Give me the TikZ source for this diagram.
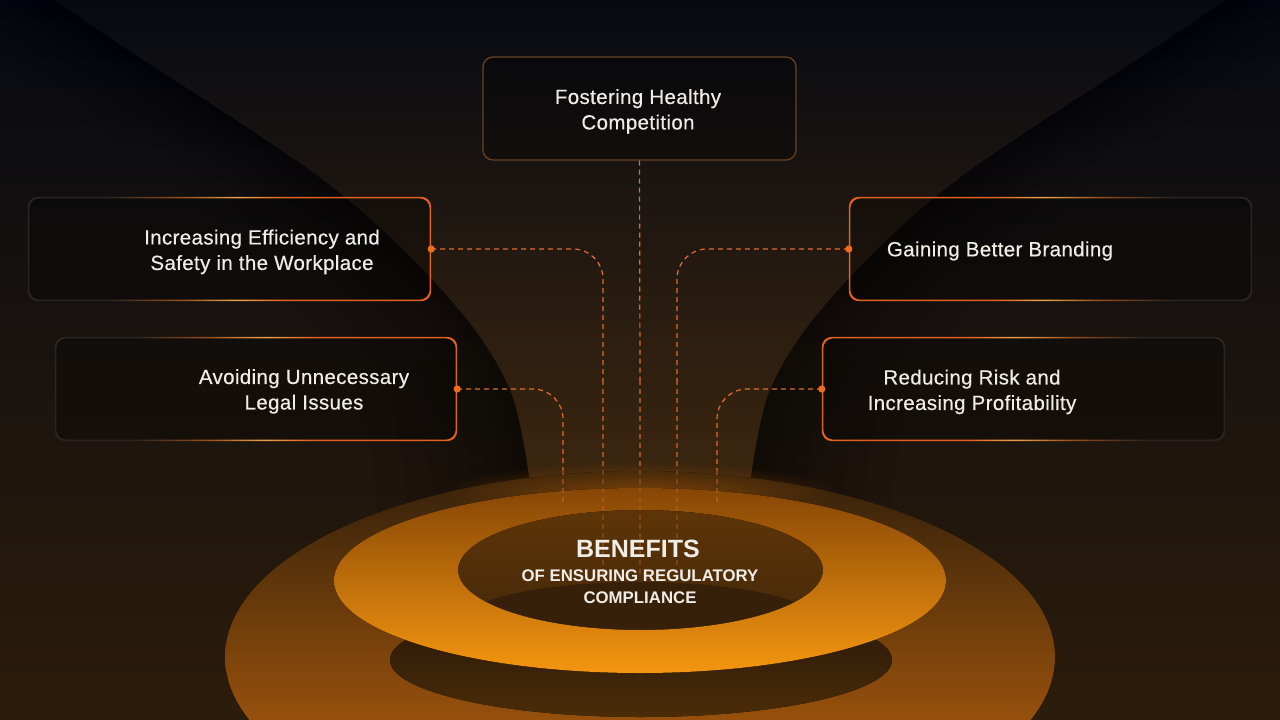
\documentclass[tikz,border=0pt]{standalone}
\usepackage{fontspec}
\setmainfont{Liberation Sans}
\newfontfamily\labelfont[FakeBold=0.45,LetterSpace=1.8]{Liberation Sans}
\usetikzlibrary{fadings}

\definecolor{bgtop}{HTML}{070A12}
\definecolor{bgmid}{HTML}{16120F}
\definecolor{bgbot}{HTML}{2C1C0B}
\definecolor{bellmid}{HTML}{17130F}
\definecolor{bellbot}{HTML}{3E270F}
\definecolor{oetop}{HTML}{33200B}
\definecolor{oemid}{HTML}{683908}
\definecolor{oebot}{HTML}{C8680C}
\definecolor{detop}{HTML}{26160A}
\definecolor{debot}{HTML}{4A2C08}
\definecolor{ringtop}{HTML}{864606}
\definecolor{ringmid}{HTML}{C27410}
\definecolor{ringbot}{HTML}{F59610}
\definecolor{holetop}{HTML}{5E3507}
\definecolor{holebot}{HTML}{44280A}
\definecolor{holein}{HTML}{36200A}
\definecolor{glowc}{HTML}{8A4A0A}
\definecolor{bdark}{HTML}{2A2520}
\definecolor{bmid}{HTML}{9A4E1C}
\definecolor{bgold}{HTML}{E8A248}
\definecolor{borange}{HTML}{E2611D}
\definecolor{topborder}{HTML}{6A4322}
\definecolor{dashc}{HTML}{DE6E2E}
\definecolor{dotc}{HTML}{F26B1D}
\definecolor{txt}{HTML}{F0ECE6}

\pgfdeclarehorizontalshading{lborder}{100bp}{color(0bp)=(bdark); color(35bp)=(bdark); color(44bp)=(bmid); color(51bp)=(bgold); color(57bp)=(borange); color(100bp)=(borange)}
\pgfdeclarehorizontalshading{rborder}{100bp}{color(0bp)=(borange); color(43bp)=(borange); color(49bp)=(bgold); color(56bp)=(bmid); color(65bp)=(bdark); color(100bp)=(bdark)}

\tikzfading[name=glowfade, inner color=transparent!25, outer color=transparent!100]
\tikzfading[name=shfade, top color=transparent!100, middle color=transparent!88, bottom color=transparent!0]

\newcommand\bellpath[2]{%
  plot[smooth, tension=.55] coordinates {({-140-#1},-130) ({40-#1},-10) ({122-#1},46) ({327-#1},183) ({449-#1},298) ({510-#1},390) ({531-#1},492)}
  -- ({531-#1},#2) -- ({749+#1},#2)
  -- plot[smooth, tension=.55] coordinates {({749+#1},492) ({770+#1},390) ({831+#1},298) ({953+#1},183) ({1158+#1},46) ({1240+#1},-10) ({1420+#1},-130)}
  -- cycle}

\tikzset{
  boxnode/.style={minimum width=#1, minimum height=104pt, inner sep=0pt, fill=black, fill opacity=.25},
  label/.style={text=txt, align=center, inner sep=0pt, font=\labelfont\fontsize{20.5}{25.5}\selectfont},
  conn/.style={draw=dashc, line width=1.2pt, dash pattern=on 5pt off 4pt, rounded corners=30pt},
  dotmark/.style={fill=dotc},
  ctext/.style={text=txt, inner sep=0pt, anchor=base, font=\bfseries}
}

\begin{document}
\begin{tikzpicture}[x=1pt,y=-1pt]
\useasboundingbox (0,0) rectangle (1280,720);
% background
\fill[top color=bgtop, middle color=bgmid, bottom color=bgbot] (0,0) rectangle (1280,720);
\begin{scope}
\clip (0,0) rectangle (1280,720);
% soft shadow around the funnel
\foreach \d in {6,16,28,42,58,76,96,120,150}{
  \fill[black, opacity=.07, path fading=shfade] \bellpath{\d}{600};
}
% funnel interior
\begin{scope}
  \clip \bellpath{0}{500};
  \fill[top color=bgtop, middle color=bellmid, bottom color=bellbot] (0,0) rectangle (1280,500);
\end{scope}
\end{scope}
% outer glow ellipse
\fill[top color=oetop, middle color=oemid, bottom color=oebot] (640,657) ellipse [x radius=415, y radius=186];
\fill[glowc, path fading=glowfade] (640,492) ellipse [x radius=200, y radius=30];
% dark ellipse under ring
\fill[top color=detop, bottom color=debot] (641,660) ellipse [x radius=251, y radius=57];
% hole
\begin{scope}
  \clip (640.5,570) ellipse [x radius=182.5, y radius=60];
  \fill[top color=holetop, bottom color=holebot] (440,505) rectangle (840,635);
  \fill[holein] (640,622) ellipse [x radius=178, y radius=40];
\end{scope}
% ring
\fill[top color=ringtop, middle color=ringmid, bottom color=ringbot, even odd rule]
  (640,580.5) ellipse [x radius=306, y radius=92.5]
  (640.5,570) ellipse [x radius=182.5, y radius=60];

% boxes
\node[boxnode=313pt, minimum height=103pt, draw=topborder, line width=1.2pt, rounded corners=10pt] (tp) at (639.5,108.5) {};
\node[boxnode=403pt, rounded corners=10pt] (l1) at (229.5,249) {};
\node[boxnode=402pt, rounded corners=10pt] (l2) at (256,389) {};
\node[boxnode=403pt, rounded corners=10pt] (r1) at (1050.5,249) {};
\node[boxnode=403pt, rounded corners=10pt] (r2) at (1023.5,389) {};

\shade[shading=lborder, even odd rule, rounded corners=10pt]
  (l1.south west) rectangle (l1.north east)
  ([shift={(1.5pt,1.5pt)}]l1.south west) rectangle ([shift={(-1.5pt,-1.5pt)}]l1.north east);
\shade[shading=lborder, even odd rule, rounded corners=10pt]
  (l2.south west) rectangle (l2.north east)
  ([shift={(1.5pt,1.5pt)}]l2.south west) rectangle ([shift={(-1.5pt,-1.5pt)}]l2.north east);
\shade[shading=rborder, even odd rule, rounded corners=10pt]
  (r1.south west) rectangle (r1.north east)
  ([shift={(1.5pt,1.5pt)}]r1.south west) rectangle ([shift={(-1.5pt,-1.5pt)}]r1.north east);
\shade[shading=rborder, even odd rule, rounded corners=10pt]
  (r2.south west) rectangle (r2.north east)
  ([shift={(1.5pt,1.5pt)}]r2.south west) rectangle ([shift={(-1.5pt,-1.5pt)}]r2.north east);

% labels
\node[label] (tpt) at (638,111.4) {Fostering Healthy\\Competition};
\node[label] (l1t) at (262,251.9) {Increasing Efficiency and\\Safety in the Workplace};
\node[label] (l2t) at (304,391.4) {Avoiding Unnecessary\\Legal Issues};
\node[label] (r1t) at (1000,251) {Gaining Better Branding};
\node[label] (r2t) at (972,391.9) {Reducing Risk and\\Increasing Profitability};

% connector ends
\coordinate (l1a) at (603,380); \coordinate (l1e) at (603,470); \coordinate (l1z) at (603,578);
\coordinate (tpa) at (640,380); \coordinate (tpe) at (640,470); \coordinate (tpz) at (640,578);
\coordinate (r1a) at (677,380); \coordinate (r1e) at (677,470); \coordinate (r1z) at (677,578);
\coordinate (l2e) at (563,470); \coordinate (l2z) at (563,505);
\coordinate (r2e) at (717,470); \coordinate (r2z) at (717,505);

\draw[conn] (l1.east) -| (l1a);
\draw[conn, opacity=.6] (l1a) -- (l1e);
\draw[conn, opacity=.3] (l1e) -- (l1z);
\draw[conn] (tp.south) -- (tpa);
\draw[conn, opacity=.6] (tpa) -- (tpe);
\draw[conn, opacity=.3] (tpe) -- (tpz);
\draw[conn] (r1.west) -| (r1a);
\draw[conn, opacity=.6] (r1a) -- (r1e);
\draw[conn, opacity=.3] (r1e) -- (r1z);
\draw[conn] (l2.east) -| (l2e);
\draw[conn, opacity=.4] (l2e) -- (l2z);
\draw[conn] (r2.west) -| (r2e);
\draw[conn, opacity=.4] (r2e) -- (r2z);

\fill[dotmark] (l1.east) circle (3.6);
\fill[dotmark] (l2.east) circle (3.6);
\fill[dotmark] (r1.west) circle (3.6);
\fill[dotmark] (r2.west) circle (3.6);

% centre text
\node[ctext, font=\bfseries\fontsize{25}{30}\selectfont] (c1) at (638,557) {BENEFITS};
\node[ctext, font=\bfseries\fontsize{16.8}{20}\selectfont] (c2) at (640,581) {OF ENSURING REGULATORY};
\node[ctext, font=\bfseries\fontsize{16.8}{20}\selectfont] (c3) at (640,603) {COMPLIANCE};
\end{tikzpicture}
\end{document}
